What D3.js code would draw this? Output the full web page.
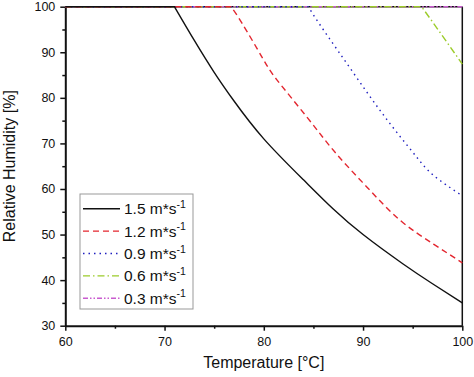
<!DOCTYPE html>
<head>
  <meta charset="utf-8">
  <style>
    body { margin: 0; background: #fff; }
    svg text { font-family: "Liberation Sans", Arial, sans-serif; fill: #111; }
    svg .tick text { font-size: 12.5px; }
    svg .domain { stroke: #111; stroke-width: 2px; }
    svg .tick line { stroke: #111; stroke-width: 1.5px; }
    svg .curve { fill: none; stroke-width: 1.4px; }
  </style>
</head>
<body>
<script src="https://cdnjs.cloudflare.com/ajax/libs/d3/7.8.5/d3.min.js"></script>
<script>
  // air speed labels (legend)
  var speeds = ["1.5", "1.2", "0.9", "0.6", "0.3"];

  // temperature [°C] / relative humidity [%]
  // (first point: start at 100 %, second point: where the curve leaves 100 %)
  var t15  = [60, 71, 73, 75, 77, 80, 84, 87, 90, 94, 97, 100];
  var rh15 = [100, 100, 92.6, 85.6, 79.3, 71.0, 62.0, 55.6, 50.0, 43.6, 39.2, 35.0];

  var t12  = [60, 76.7, 77.8, 79.8, 81.3, 84.3, 87.2, 90.4, 93.7, 97.1, 100];
  var rh12 = [100, 100, 96.4, 89.0, 84.0, 75.9, 68.0, 60.4, 53.2, 47.9, 43.8];

  var t09  = [60, 84.5, 85.3, 87.0, 88.7, 90.4, 92.0, 93.7, 95.4, 97.1, 100];
  var rh09 = [100, 100, 97.2, 91.8, 86.5, 81.2, 76.4, 71.6, 67.0, 63.0, 58.5];

  var t06  = [60, 95.9, 98, 100];
  var rh06 = [100, 100, 93.6, 87.4];

  var t03  = [60, 100];
  var rh03 = [100, 100];

  var xTicks = [60, 70, 80, 90, 100];
  var yTicks = [30, 40, 50, 60, 70, 80, 90, 100];

  var allT  = [t15, t12, t09, t06, t03];
  var allRH = [rh15, rh12, rh09, rh06, rh03];
  var colors = ["#111111", "#e3262f", "#1f1fbf", "#9ccc2a", "#c95ccf"];
  var dashes = [null, "6,4", "1.5,4", "7,3,1.5,3", "5,2,1.5,2,1.5,2"];

  var margin = { top: 6.7, left: 65.3 },
      width = 397,
      height = 319;

  var svg = d3.select("body").append("svg")
      .attr("width", 474)
      .attr("height", 377);

  var g = svg.append("g")
      .attr("transform", "translate(" + margin.left + "," + margin.top + ")");

  var x = d3.scaleLinear().domain([60, 100]).range([0, width]);
  var y = d3.scaleLinear().domain([30, 100]).range([height, 0]);

  // minor ticks
  g.append("g")
      .attr("transform", "translate(0," + height + ")")
      .call(d3.axisBottom(x).tickValues(d3.range(65, 100, 10)).tickSize(3).tickFormat(""))
      .select(".domain").remove();
  g.append("g")
      .call(d3.axisLeft(y).tickValues(d3.range(35, 100, 10)).tickSize(3).tickFormat(""))
      .select(".domain").remove();

  // major axes
  g.append("g")
      .attr("transform", "translate(0," + height + ")")
      .call(d3.axisBottom(x).tickValues(xTicks).tickSize(5).tickPadding(6).tickSizeOuter(0));
  g.append("g")
      .call(d3.axisLeft(y).tickValues(yTicks).tickSize(5).tickPadding(5).tickSizeOuter(0));

  // top and right frame
  g.append("line").attr("x1", 0).attr("x2", width).attr("y1", 0).attr("y2", 0)
      .style("stroke", "#111").style("stroke-width", "1.5px");
  g.append("line").attr("x1", width).attr("x2", width).attr("y1", 0).attr("y2", height)
      .style("stroke", "#111").style("stroke-width", "1.5px");

  // curves: flat part straight, falling part smooth
  var flat = d3.line()
      .x(function (d) { return x(d[0]); })
      .y(function (d) { return y(d[1]); });
  var smooth = d3.line()
      .x(function (d) { return x(d[0]); })
      .y(function (d) { return y(d[1]); })
      .curve(d3.curveNatural);

  for (var i = allT.length - 1; i >= 0; i--) {
    var pts = allT[i].map(function (t, j) { return [t, allRH[i][j]]; });
    var d = flat(pts.slice(0, 2));
    if (pts.length > 2) d += smooth(pts.slice(1)).replace(/^M[^A-Za-z]*/, "");
    g.append("path")
        .classed("curve", true)
        .attr("d", d)
        .style("stroke", colors[i])
        .style("stroke-dasharray", dashes[i]);
  }

  // axis titles
  svg.append("text")
      .attr("x", margin.left + width / 2)
      .attr("y", 368)
      .style("text-anchor", "middle")
      .style("font-size", "16px")
      .text("Temperature [°C]");

  svg.append("text")
      .attr("transform", "translate(15," + (margin.top + height / 2) + ") rotate(-90)")
      .style("text-anchor", "middle")
      .style("font-size", "16px")
      .text("Relative Humidity [%]");

  // legend
  var lg = svg.append("g").attr("transform", "translate(80,194)");
  lg.append("rect")
      .attr("width", 113)
      .attr("height", 115)
      .style("fill", "#fff")
      .style("stroke", "#999")
      .style("stroke-width", "1px");

  speeds.forEach(function (s, i) {
    var yy = 14.7 + i * 22.4;
    lg.append("line")
        .attr("x1", 3).attr("x2", 40).attr("y1", yy).attr("y2", yy)
        .style("stroke", colors[i])
        .style("stroke-width", "1.4px")
        .style("stroke-dasharray", dashes[i]);
    var tx = lg.append("text")
        .attr("x", 44)
        .attr("y", yy + 5.5)
        .style("font-size", "15.5px");
    tx.append("tspan").text(s + " m*s");
    tx.append("tspan").attr("dy", -6.5).style("font-size", "10.5px").text("-1");
  });
</script>
</body>
</html>
